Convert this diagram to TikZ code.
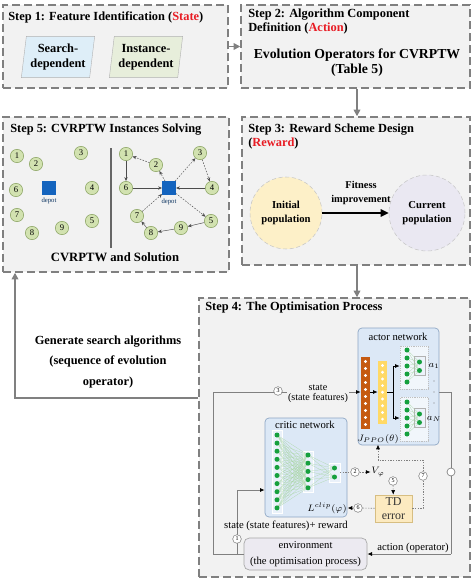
\documentclass[tikz,border=0pt]{standalone}
\usepackage{fontspec}
\setmainfont{Liberation Serif}
\usepackage{amsmath}
\usepackage{amssymb}
\usetikzlibrary{arrows.meta,shapes.geometric,fit,positioning}

\definecolor{boxfill}{RGB}{242,242,242}
\definecolor{boxline}{RGB}{128,128,128}
\definecolor{stepred}{RGB}{232,28,36}
\definecolor{searchfill}{RGB}{222,238,248}
\definecolor{instfill}{RGB}{231,238,219}
\definecolor{initfill}{RGB}{253,240,200}
\definecolor{curfill}{RGB}{234,232,242}
\definecolor{custfill}{RGB}{210,226,176}
\definecolor{custline}{RGB}{140,165,100}
\definecolor{depotblue}{RGB}{20,100,190}
\definecolor{netfill}{RGB}{220,232,246}
\definecolor{netline}{RGB}{140,165,195}
\definecolor{dotgreen}{RGB}{22,160,62}
\definecolor{synline}{RGB}{170,215,165}
\definecolor{layorange}{RGB}{197,90,17}
\definecolor{layyellow}{RGB}{255,217,102}
\definecolor{tdfill}{RGB}{252,234,192}
\definecolor{tdline}{RGB}{215,190,130}
\definecolor{envfill}{RGB}{236,234,241}

\tikzset{
  stepbox/.style={draw=boxline, fill=boxfill, line width=1.1pt, dash pattern=on 6pt off 3pt, inner sep=0pt},
  steptitle/.style={anchor=west, inner sep=0pt, align=left, font=\fontsize{9.3}{10.5}\selectfont\bfseries},
  flow/.style={draw=boxline, line width=1.1pt, -{Triangle[length=5pt,width=5pt]}},
  para/.style={trapezium, trapezium left angle=80, trapezium right angle=100, trapezium stretches body,
    draw=gray!60, line width=0.3pt, minimum width=55pt, minimum height=31pt, inner sep=1pt,
    align=center, font=\fontsize{9.3}{11}\selectfont\bfseries},
  pop/.style={circle, draw=gray!45, densely dashed, line width=0.4pt, inner sep=0pt, align=center,
    font=\fontsize{8}{10}\selectfont\bfseries},
  cust/.style={circle, draw=custline, fill=custfill, line width=0.4pt, minimum size=10pt, inner sep=0pt,
    font=\fontsize{6.5}{6.5}\selectfont},
  depot/.style={rectangle, fill=depotblue, minimum size=10pt, inner sep=0pt},
  depotlab/.style={font=\fontsize{5}{5}\selectfont, text=depotblue!50!black, inner sep=0pt},
  route/.style={draw=gray!60!black, line width=0.35pt, -{Stealth[length=3pt,width=2.5pt]}},
  droute/.style={route, dash pattern=on 1.2pt off 1pt},
  rl/.style={draw=gray, line width=0.6pt},
  rlarr/.style={rl, -{Latex[length=3.5pt,width=3pt,color=black]}},
  dotrl/.style={draw=gray, line width=0.5pt, dash pattern=on 1pt off 1pt},
  dotarr/.style={dotrl, -{Latex[length=3.5pt,width=3pt,color=black]}},
  net/.style={draw=netline, fill=netfill, rounded corners=3pt, line width=0.5pt, inner sep=0pt},
  subbox/.style={draw=gray!50, densely dotted, fill=white!60!netfill, line width=0.4pt, inner sep=0pt},
  layer/.style={draw=white, line width=0.6pt, fill=netfill!60, inner sep=0pt},
  syn/.style={draw=synline, line width=0.15pt},
  rltext/.style={font=\fontsize{8}{9}\selectfont, inner sep=0.5pt, align=center},
  mathlab/.style={font=\fontsize{7}{8}\selectfont, inner sep=0.5pt},
  num/.style={circle, draw=gray, fill=white, line width=0.4pt, minimum size=6.5pt, inner sep=0pt,
    font=\fontsize{4.5}{4.5}\selectfont},
}

\begin{document}
\begin{tikzpicture}[x=0.75pt,y=0.75pt,yscale=-1,xscale=1]
\useasboundingbox (0,0) rectangle (474,579);

% Step boxes
\node[stepbox, fit={(3,5) (228,88)}] (step1) {};
\node[stepbox, fit={(241,5) (470,88)}] (step2) {};
\node[stepbox, fit={(242,117) (470,265)}] (step3) {};
\node[stepbox, fit={(3,117) (229,272)}] (step5) {};
\node[stepbox, fit={(199,298) (470,577)}] (step4) {};

% Step 1
\node[steptitle] (title1) at (8,17) {Step 1: Feature Identification (\textcolor{stepred}{State})};
\node[para, fill=searchfill] (search) at (58,57) {Search-\\dependent};
\node[para, fill=instfill] (instance) at (146,57) {Instance-\\dependent};

% Step 2
\node[steptitle] (title2) at (248,22) {Step 2: Algorithm Component\\Definition (\textcolor{stepred}{Action})};
\node[align=center, inner sep=0pt, font=\fontsize{10.3}{11.3}\selectfont\bfseries] (evo) at (357,62.5)
  {Evolution Operators for CVRPTW\\(Table 5)};

% Step 3
\node[steptitle] (title3) at (248,136.5) {Step 3: Reward Scheme Design\\(\textcolor{stepred}{Reward})};
\node[pop, fill=initfill, minimum size=54pt] (init) at (286,213) {Initial\\population};
\node[pop, fill=curfill, minimum size=57pt] (cur) at (427,213) {Current\\population};
\draw[line width=1.5pt, -{Triangle[length=6pt,width=5.5pt]}] (init) -- (cur);
\node[align=center, inner sep=0pt, font=\fontsize{7.8}{10.3}\selectfont\bfseries] (fit) at (361,193) {Fitness\\improvement};

% Step 5
\node[steptitle] (title5) at (10,130) {Step 5: CVRPTW Instances Solving};
\node[cust] (l1) at (17,156) {1};
\node[cust] (l2) at (36,164) {2};
\node[cust] (l3) at (81,153) {3};
\node[cust] (l4) at (92,188) {4};
\node[cust] (l5) at (92,221) {5};
\node[cust] (l6) at (16,190) {6};
\node[cust] (l7) at (17,215) {7};
\node[cust] (l8) at (32,233) {8};
\node[cust] (l9) at (62,228) {9};
\node[depot] (ld) at (49,188) {};
\node[depotlab, below=2pt of ld] (ldl) {depot};
\draw[line width=0.8pt, gray!80!black] (111,148) -- (111,248);
\node[cust] (r1) at (126,154) {1};
\node[cust] (r2) at (156,165) {2};
\node[cust] (r3) at (200,153) {3};
\node[cust] (r4) at (212,188) {4};
\node[cust] (r5) at (211,221) {5};
\node[cust] (r6) at (126,188) {6};
\node[cust] (r7) at (137,216) {7};
\node[cust] (r8) at (151,233) {8};
\node[cust] (r9) at (181,228) {9};
\node[depot] (rd) at (169,188) {};
\node[depotlab, below=3pt of rd] (rdl) {depot};
\draw[droute] (rd) -- (r2);
\draw[droute] (r2) -- (r1);
\draw[route] (r1) -- (r6);
\draw[route] (r6) -- (rd);
\draw[droute] (rd) -- (r3);
\draw[droute] (r3) -- (r4);
\draw[route] (r4) -- (rd);
\draw[droute] (rd) -- (r5);
\draw[route] (r5) -- (r9);
\draw[route] (r9) -- (r8);
\draw[route] (r8) -- (r7);
\draw[droute] (r7) -- (rd);
\node[inner sep=0pt, font=\fontsize{9.5}{10}\selectfont\bfseries] (sol) at (115,257) {CVRPTW and Solution};

% Step 4
\node[steptitle] (title4) at (205,308) {Step 4: The Optimisation Process};

% actor network
\node[net, fit={(358,328) (439,445)}] (actor) {};
\node[rltext] (actorlab) at (398,337) {actor network};
\node[fit={(361,357) (370,429)}, fill=layorange, inner sep=0pt] (lay1) {};
\foreach \i in {0,...,9} \fill[white] (365.5,{361.5+7*\i}) circle (1.7);
\node[fit={(378,361) (387,424)}, fill=layyellow, inner sep=0pt] (lay2) {};
\foreach \i in {0,...,8} \fill[white] (382.5,{365.5+6.7*\i}) circle (1.6);
\node[subbox, fit={(400,346) (428,389)}] (head1) {};
\node[subbox, fit={(400,397) (428,441)}] (headN) {};
\foreach \b in {0,52} {
  \draw[draw=gray!60, line width=0.3pt, fill=white!50!netfill] (414,{356+\b}) rectangle (425,{375+\b});
  \foreach \i in {0,...,4} \foreach \j in {0,1} \draw[syn] (407,{350+8*\i+\b}) -- (419.5,{362+8.5*\j+\b});
  \foreach \i in {0,...,4} \fill[dotgreen] (407,{350+8*\i+\b}) circle (2.5);
  \foreach \j in {0,1} \fill[dotgreen] (419.5,{362+8.5*\j+\b}) circle (2.5);
}
\coordinate (fork) at (393,392);
\draw[rlarr, draw=black] (lay1.east |- fork) -- (lay2.west |- fork);
\draw[draw=black, line width=0.6pt] (lay2.east |- fork) -- (fork);
\draw[rlarr, draw=black] (fork) |- (head1.west |- 0,366);
\draw[rlarr, draw=black] (fork) |- (headN.west |- 0,418);
\node[mathlab] (a1) at (434,366) {$a_1$};
\node[mathlab] (aN) at (434,419) {$a_N$};
\foreach \y in {381,392,403} \fill[gray] (434,\y) circle (0.6);
\node[mathlab] (jppo) at (378,439) {$J_{PPO}(\theta)$};

% critic network
\node[net, fit={(265,418) (347,517)}] (critic) {};
\node[rltext] (criticlab) at (305,425) {critic network};
\draw[layer] (272,430) rectangle (282,513);
\draw[layer] (303,451) rectangle (313,492);
\draw[layer] (329,463) rectangle (340,482);
\foreach \i in {0,...,9} \foreach \j in {0,...,4} \draw[syn] (277,{435+8.1*\i}) -- (308,{455+8.2*\j});
\foreach \j in {0,...,4} \foreach \k in {0,1} \draw[syn] (308,{455+8.2*\j}) -- (334.5,{468+9*\k});
\foreach \i in {0,...,9} \fill[dotgreen] (277,{435+8.1*\i}) circle (2.5);
\foreach \j in {0,...,4} \fill[dotgreen] (308,{455+8.2*\j}) circle (2.5);
\foreach \k in {0,1} \fill[dotgreen] (334.5,{468+9*\k}) circle (2.5);
\coordinate (cout) at (340,472);

% TD error and environment
\node[fit={(375,495) (412,522)}, fill=tdfill, draw=tdline, line width=0.4pt, inner sep=0pt, align=center,
  font=\fontsize{9}{9.5}\selectfont, text=gray!40!black] (td) {};
\node[align=center, inner sep=0pt, font=\fontsize{9}{10}\selectfont, text=gray!40!black] (tdlab) at (td.center) {TD\\error};
\node[fit={(244,538) (367,570)}, fill=envfill, draw=gray!70, rounded corners=4pt, line width=0.5pt, inner sep=0pt] (env) {};
\node[align=center, inner sep=0pt, font=\fontsize{8}{12}\selectfont] (envlab) at (env.center)
  {environment\\(the optimisation process)};

% numbered steps
\node[num] (n2) at (355,472) {2};
\node[mathlab] (vphi) at (378,472) {$V_\varphi$};
\draw[dotrl] (cout) -- (n2);
\draw[dotarr] (n2) -- (vphi);
\node[num] (n5) at (393,481) {5};
\draw[dotarr] (n5) -- (td);
\node[num] (n6) at (358,508) {6};
\node[mathlab] (lclip) at (327,508) {$L^{clip}(\varphi)$};
\draw[dotrl] (td) -- (n6);
\draw[dotarr] (n6) -- (lclip);
\coordinate (c7) at (423,460);
\node[num] (n7) at (423,476) {7};
\draw[dotrl] (td.east) -- (td.east -| c7) -- (n7);
\draw[dotarr] (n7) -- (c7) -| (jppo.south);

% state and action loops
\coordinate (sl) at (213,392);
\coordinate (ci) at (237,490);
\coordinate (ar) at (451,392);
\draw[rl] (env.west) -- (env.west -| sl) -- (sl);
\draw[rlarr] (sl) -- (lay1.west |- sl);
\node[num] (n3) at (278,391) {3};
\node[rltext, fill=boxfill, font=\fontsize{7.6}{7.8}\selectfont] (stlab) at (318,394) {state\\(state features)};
\draw[rl] (env.west -| ci) -- (ci);
\draw[rlarr] (ci) -- (critic.west |- ci);
\node[num] (n1) at (237,539) {1};
\node[rltext] (rwlab) at (286,526) {state (state features)+ reward};
\draw[rl] (actor.east |- ar) -- (ar) -- (ar |- env.east);
\draw[rlarr] (ar |- env.east) -- (env.east);
\node[circle, draw=gray, fill=white, line width=0.5pt, minimum size=6pt, inner sep=0pt] (sw) at (451,472) {};
\node[rltext, fill=boxfill] (actlab) at (413,548) {action (operator)};

% flow between steps
\draw[flow] (step1) -- (step2);
\draw[flow] (evo |- step2.south) -- (evo |- step3.north);
\draw[flow] (evo |- step3.south) -- (evo |- step4.north);
\coordinate (up) at (15,398);
\draw[flow] (step4.west |- up) -- (up) -- (up |- step5.south);
\node[align=center, inner sep=0pt, font=\fontsize{9.3}{15.5}\selectfont\bfseries] (gen) at (108,362)
  {Generate search algorithms\\(sequence of evolution\\operator)};

\end{tikzpicture}
\end{document}
